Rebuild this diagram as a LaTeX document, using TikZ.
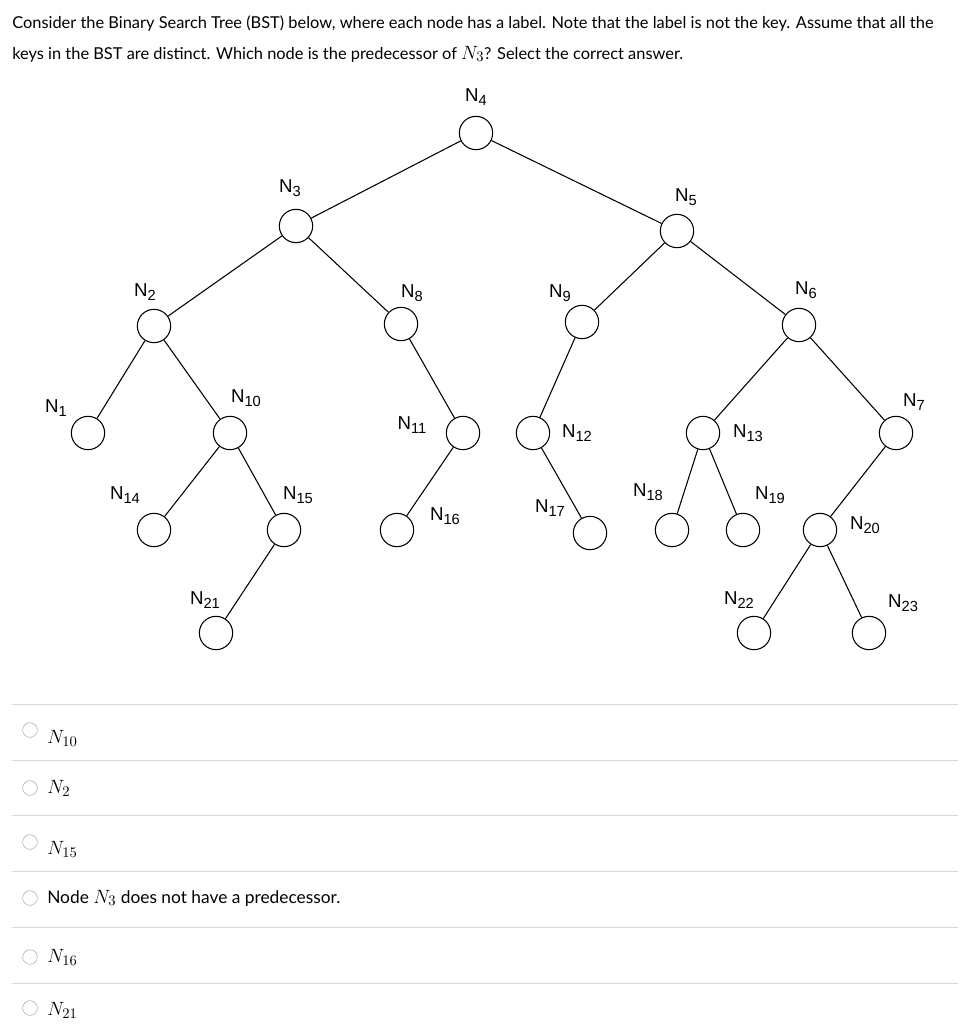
\documentclass[tikz,border=0pt]{standalone}
\usepackage{fontspec}
\setmainfont{Lato}
\newfontfamily\arial{Liberation Sans}
\begin{document}
\begin{tikzpicture}[x=0.75pt,y=-0.75pt,
 tn/.style={circle,draw,thick,minimum size=25pt,inner sep=0pt},
 lb/.style={font=\arial\fontsize{14}{14}\selectfont,inner sep=0pt},
 radio/.style={circle,draw=gray!70,minimum size=11pt,inner sep=0pt},
 sep/.style={draw=gray!30},
 edge/.style={line width=0.8pt},
 opt/.style={anchor=west,inner sep=0pt,font=\fontsize{13}{13}\selectfont}]
\useasboundingbox (0,0) rectangle (980,1024);
\node[anchor=west,inner sep=0pt,font=\fontsize{12.3}{12}\selectfont] (q1) at (12,24) {Consider the Binary Search Tree (BST) below, where each node has a label. Note that the label is not the key. Assume that all the};
\node[anchor=west,inner sep=0pt,font=\fontsize{12.3}{12}\selectfont] (q2) at (12,54) {keys in the BST are distinct. Which node is the predecessor of {\fontsize{15}{15}\selectfont$N_3$}? Select the correct answer.};
\foreach \n/\x/\y in {4/476/133,3/296/226,5/677/231,2/154/326,8/401/324,9/582/322,6/799/325,1/88/433,10/230/433,11/463/433,12/533/433,13/703/433,7/896/433,14/154/530,15/284/530,16/397/530,17/590/533,18/672/530,19/743/530,20/820/530,21/216/633,22/754/633,23/869/633}
  \node[tn] (n\n) at (\x,\y) {};
\foreach \a/\b in {4/3,4/5,3/2,3/8,2/1,2/10,10/14,10/15,15/21,8/11,11/16,5/9,5/6,9/12,12/17,6/13,6/7,13/18,13/19,7/20,20/22,20/23}
  \draw[edge] (n\a) -- (n\b);
\foreach \n/\x/\y in {4/476/97,3/290/188,5/686/197,2/145/292,8/412/293,9/560/293,6/806/290,1/56/408,10/246/398,11/412/425,12/577/433,13/748/433,7/914/402,14/125/495,15/298/495,16/445/516,17/550/508,18/648/492,19/770/495,20/865/525,21/205/600,22/739/600,23/903/603}
  \node[lb] (l\n) at (\x,\y) {N\raisebox{-0.35ex}{\fontsize{11}{11}\selectfont\n}};
\foreach \y in {704,760,815,871,927,983} \draw[sep] (12,\y) -- (958,\y);
\foreach \i/\y in {1/730,2/788,3/842,4/898,5/957,6/1008} \node[radio] (r\i) at (30,\y) {};
\node[opt] (o1) at (47,738) {\fontsize{15}{15}\selectfont\rmfamily $N_{10}$};
\node[opt] (o2) at (47,788) {\fontsize{15}{15}\selectfont\rmfamily $N_{2}$};
\node[opt] (o3) at (47,849) {\fontsize{15}{15}\selectfont\rmfamily $N_{15}$};
\node[opt] (o4) at (47,898) {Node {\fontsize{15}{15}\selectfont $N_3$} does not have a predecessor.};
\node[opt] (o5) at (47,957) {\fontsize{15}{15}\selectfont\rmfamily $N_{16}$};
\node[opt] (o6) at (47,1010) {\fontsize{15}{15}\selectfont\rmfamily $N_{21}$};
\end{tikzpicture}
\end{document}
